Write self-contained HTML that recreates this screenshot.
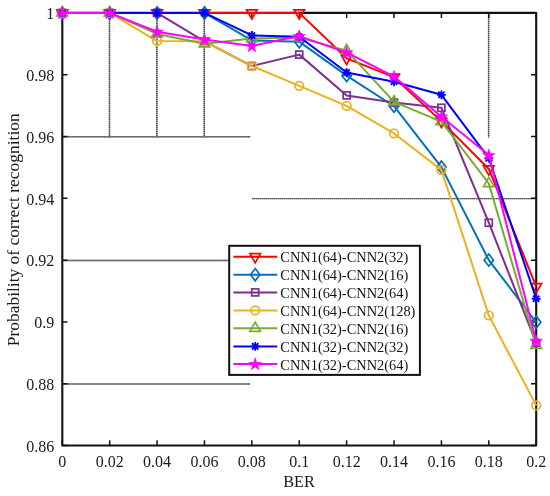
<!DOCTYPE html>
<html><head><meta charset="utf-8"><title>BER chart</title>
<style>html,body{margin:0;padding:0;background:#fff}body{width:550px;height:496px;overflow:hidden}</style></head>
<body>
<svg width="550" height="496" viewBox="0 0 550 496" style="display:block">
<rect width="550" height="496" fill="#fff"/>
<line x1="62.30" y1="136.81" x2="250.36" y2="136.81" stroke="#868686" stroke-width="1.4" fill="none"/>
<line x1="62.30" y1="136.81" x2="250.36" y2="136.81" stroke="#505050" stroke-width="1.4" stroke-dasharray="1 1" fill="none"/>
<line x1="62.30" y1="260.43" x2="250.36" y2="260.43" stroke="#868686" stroke-width="1.4" fill="none"/>
<line x1="62.30" y1="260.43" x2="250.36" y2="260.43" stroke="#505050" stroke-width="1.4" stroke-dasharray="1 1" fill="none"/>
<line x1="62.30" y1="384.04" x2="250.36" y2="384.04" stroke="#868686" stroke-width="1.4" fill="none"/>
<line x1="62.30" y1="384.04" x2="250.36" y2="384.04" stroke="#505050" stroke-width="1.4" stroke-dasharray="1 1" fill="none"/>
<line x1="251.86" y1="198.62" x2="534.70" y2="198.62" stroke="#868686" stroke-width="1.4" fill="none"/>
<line x1="251.86" y1="198.62" x2="534.70" y2="198.62" stroke="#505050" stroke-width="1.4" stroke-dasharray="1 1" fill="none"/>
<line x1="109.49" y1="12.90" x2="109.49" y2="137.51" stroke="#868686" stroke-width="1.4" fill="none"/>
<line x1="109.49" y1="12.90" x2="109.49" y2="137.51" stroke="#505050" stroke-width="1.4" stroke-dasharray="1 1" fill="none"/>
<line x1="156.88" y1="12.90" x2="156.88" y2="137.51" stroke="#868686" stroke-width="1.4" fill="none"/>
<line x1="156.88" y1="12.90" x2="156.88" y2="137.51" stroke="#505050" stroke-width="1.4" stroke-dasharray="1 1" fill="none"/>
<line x1="204.27" y1="12.90" x2="204.27" y2="137.51" stroke="#868686" stroke-width="1.4" fill="none"/>
<line x1="204.27" y1="12.90" x2="204.27" y2="137.51" stroke="#505050" stroke-width="1.4" stroke-dasharray="1 1" fill="none"/>
<line x1="488.61" y1="12.90" x2="488.61" y2="137.51" stroke="#868686" stroke-width="1.4" fill="none"/>
<line x1="488.61" y1="12.90" x2="488.61" y2="137.51" stroke="#505050" stroke-width="1.4" stroke-dasharray="1 1" fill="none"/>
<rect x="62.30" y="12.90" width="473.90" height="432.65" stroke="#111" stroke-width="2.1" stroke-linejoin="round" fill="none"/>
<path d="M62.30 445.55v-5.20M62.30 12.90v5.20M109.69 445.55v-5.20M109.69 12.90v5.20M157.08 445.55v-5.20M157.08 12.90v5.20M204.47 445.55v-5.20M204.47 12.90v5.20M251.86 445.55v-5.20M251.86 12.90v5.20M299.25 445.55v-5.20M299.25 12.90v5.20M346.64 445.55v-5.20M346.64 12.90v5.20M394.03 445.55v-5.20M394.03 12.90v5.20M441.42 445.55v-5.20M441.42 12.90v5.20M488.81 445.55v-5.20M488.81 12.90v5.20M536.20 445.55v-5.20M536.20 12.90v5.20M62.30 445.55h5.20M536.20 445.55h-5.20M62.30 383.74h5.20M536.20 383.74h-5.20M62.30 321.94h5.20M536.20 321.94h-5.20M62.30 260.13h5.20M536.20 260.13h-5.20M62.30 198.32h5.20M536.20 198.32h-5.20M62.30 136.51h5.20M536.20 136.51h-5.20M62.30 74.71h5.20M536.20 74.71h-5.20M62.30 12.90h5.20M536.20 12.90h-5.20" stroke="#111" stroke-width="1.5" fill="none"/>
<g font-family="'Liberation Serif', 'Times New Roman', serif" font-size="16" fill="#1a1a1a">
<text x="62.30" y="467" text-anchor="middle">0</text>
<text x="109.69" y="467" text-anchor="middle">0.02</text>
<text x="157.08" y="467" text-anchor="middle">0.04</text>
<text x="204.47" y="467" text-anchor="middle">0.06</text>
<text x="251.86" y="467" text-anchor="middle">0.08</text>
<text x="299.25" y="467" text-anchor="middle">0.1</text>
<text x="346.64" y="467" text-anchor="middle">0.12</text>
<text x="394.03" y="467" text-anchor="middle">0.14</text>
<text x="441.42" y="467" text-anchor="middle">0.16</text>
<text x="488.81" y="467" text-anchor="middle">0.18</text>
<text x="536.20" y="467" text-anchor="middle">0.2</text>
<text x="54.2" y="451.75" text-anchor="end">0.86</text>
<text x="54.2" y="389.94" text-anchor="end">0.88</text>
<text x="54.2" y="328.14" text-anchor="end">0.9</text>
<text x="54.2" y="266.33" text-anchor="end">0.92</text>
<text x="54.2" y="204.52" text-anchor="end">0.94</text>
<text x="54.2" y="142.71" text-anchor="end">0.96</text>
<text x="54.2" y="80.91" text-anchor="end">0.98</text>
<text x="54.2" y="19.10" text-anchor="end">1</text>
<text x="299" y="486.6" text-anchor="middle" font-size="16.3">BER</text>
<text transform="translate(19.3 229.8) rotate(-90)" text-anchor="middle" font-size="17.45">Probability of correct recognition</text>
</g>
<polyline points="62.30,12.90 109.69,12.90 157.08,12.90 204.47,12.90 251.86,12.90 299.25,12.90 346.64,58.33 394.03,77.18 441.42,121.37 488.81,168.96 536.20,286.71" fill="none" stroke="#FF0000" stroke-width="2" stroke-linejoin="round"/>
<polygon points="57.00,9.84 67.60,9.84 62.30,19.02" fill="none" stroke="#FF0000" stroke-width="1.7" stroke-linejoin="miter"/>
<polygon points="104.39,9.84 114.99,9.84 109.69,19.02" fill="none" stroke="#FF0000" stroke-width="1.7" stroke-linejoin="miter"/>
<polygon points="151.78,9.84 162.38,9.84 157.08,19.02" fill="none" stroke="#FF0000" stroke-width="1.7" stroke-linejoin="miter"/>
<polygon points="199.17,9.84 209.77,9.84 204.47,19.02" fill="none" stroke="#FF0000" stroke-width="1.7" stroke-linejoin="miter"/>
<polygon points="246.56,9.84 257.16,9.84 251.86,19.02" fill="none" stroke="#FF0000" stroke-width="1.7" stroke-linejoin="miter"/>
<polygon points="293.95,9.84 304.55,9.84 299.25,19.02" fill="none" stroke="#FF0000" stroke-width="1.7" stroke-linejoin="miter"/>
<polygon points="341.34,55.27 351.94,55.27 346.64,64.45" fill="none" stroke="#FF0000" stroke-width="1.7" stroke-linejoin="miter"/>
<polygon points="388.73,74.12 399.33,74.12 394.03,83.30" fill="none" stroke="#FF0000" stroke-width="1.7" stroke-linejoin="miter"/>
<polygon points="436.12,118.31 446.72,118.31 441.42,127.49" fill="none" stroke="#FF0000" stroke-width="1.7" stroke-linejoin="miter"/>
<polygon points="483.51,165.90 494.11,165.90 488.81,175.08" fill="none" stroke="#FF0000" stroke-width="1.7" stroke-linejoin="miter"/>
<polygon points="530.90,283.65 541.50,283.65 536.20,292.83" fill="none" stroke="#FF0000" stroke-width="1.7" stroke-linejoin="miter"/>
<polyline points="62.30,12.90 109.69,12.90 157.08,12.90 204.47,12.90 251.86,40.40 299.25,41.64 346.64,75.63 394.03,106.23 441.42,167.11 488.81,260.13 536.20,322.24" fill="none" stroke="#0072BD" stroke-width="2" stroke-linejoin="round"/>
<polygon points="62.30,6.80 67.00,12.90 62.30,19.00 57.60,12.90" fill="none" stroke="#0072BD" stroke-width="1.7" stroke-linejoin="miter"/>
<polygon points="109.69,6.80 114.39,12.90 109.69,19.00 104.99,12.90" fill="none" stroke="#0072BD" stroke-width="1.7" stroke-linejoin="miter"/>
<polygon points="157.08,6.80 161.78,12.90 157.08,19.00 152.38,12.90" fill="none" stroke="#0072BD" stroke-width="1.7" stroke-linejoin="miter"/>
<polygon points="204.47,6.80 209.17,12.90 204.47,19.00 199.77,12.90" fill="none" stroke="#0072BD" stroke-width="1.7" stroke-linejoin="miter"/>
<polygon points="251.86,34.30 256.56,40.40 251.86,46.50 247.16,40.40" fill="none" stroke="#0072BD" stroke-width="1.7" stroke-linejoin="miter"/>
<polygon points="299.25,35.54 303.95,41.64 299.25,47.74 294.55,41.64" fill="none" stroke="#0072BD" stroke-width="1.7" stroke-linejoin="miter"/>
<polygon points="346.64,69.53 351.34,75.63 346.64,81.73 341.94,75.63" fill="none" stroke="#0072BD" stroke-width="1.7" stroke-linejoin="miter"/>
<polygon points="394.03,100.13 398.73,106.23 394.03,112.33 389.33,106.23" fill="none" stroke="#0072BD" stroke-width="1.7" stroke-linejoin="miter"/>
<polygon points="441.42,161.01 446.12,167.11 441.42,173.21 436.72,167.11" fill="none" stroke="#0072BD" stroke-width="1.7" stroke-linejoin="miter"/>
<polygon points="488.81,254.03 493.51,260.13 488.81,266.23 484.11,260.13" fill="none" stroke="#0072BD" stroke-width="1.7" stroke-linejoin="miter"/>
<polygon points="536.20,316.14 540.90,322.24 536.20,328.34 531.50,322.24" fill="none" stroke="#0072BD" stroke-width="1.7" stroke-linejoin="miter"/>
<polyline points="62.30,12.90 109.69,12.90 157.08,12.90 204.47,41.33 251.86,66.05 299.25,54.62 346.64,95.41 394.03,102.52 441.42,107.77 488.81,222.74 536.20,342.95" fill="none" stroke="#7E2F8E" stroke-width="2" stroke-linejoin="round"/>
<rect x="58.80" y="9.40" width="7.00" height="7.00" fill="none" stroke="#7E2F8E" stroke-width="1.7"/>
<rect x="106.19" y="9.40" width="7.00" height="7.00" fill="none" stroke="#7E2F8E" stroke-width="1.7"/>
<rect x="153.58" y="9.40" width="7.00" height="7.00" fill="none" stroke="#7E2F8E" stroke-width="1.7"/>
<rect x="200.97" y="37.83" width="7.00" height="7.00" fill="none" stroke="#7E2F8E" stroke-width="1.7"/>
<rect x="248.36" y="62.55" width="7.00" height="7.00" fill="none" stroke="#7E2F8E" stroke-width="1.7"/>
<rect x="295.75" y="51.12" width="7.00" height="7.00" fill="none" stroke="#7E2F8E" stroke-width="1.7"/>
<rect x="343.14" y="91.91" width="7.00" height="7.00" fill="none" stroke="#7E2F8E" stroke-width="1.7"/>
<rect x="390.53" y="99.02" width="7.00" height="7.00" fill="none" stroke="#7E2F8E" stroke-width="1.7"/>
<rect x="437.92" y="104.27" width="7.00" height="7.00" fill="none" stroke="#7E2F8E" stroke-width="1.7"/>
<rect x="485.31" y="219.24" width="7.00" height="7.00" fill="none" stroke="#7E2F8E" stroke-width="1.7"/>
<rect x="532.70" y="339.45" width="7.00" height="7.00" fill="none" stroke="#7E2F8E" stroke-width="1.7"/>
<polyline points="62.30,12.90 109.69,12.90 157.08,41.02 204.47,41.33 251.86,66.05 299.25,85.83 346.64,105.92 394.03,133.42 441.42,169.89 488.81,315.45 536.20,405.38" fill="none" stroke="#EDB120" stroke-width="2" stroke-linejoin="round"/>
<circle cx="62.30" cy="12.90" r="4.3" fill="none" stroke="#EDB120" stroke-width="1.7"/>
<circle cx="109.69" cy="12.90" r="4.3" fill="none" stroke="#EDB120" stroke-width="1.7"/>
<circle cx="157.08" cy="41.02" r="4.3" fill="none" stroke="#EDB120" stroke-width="1.7"/>
<circle cx="204.47" cy="41.33" r="4.3" fill="none" stroke="#EDB120" stroke-width="1.7"/>
<circle cx="251.86" cy="66.05" r="4.3" fill="none" stroke="#EDB120" stroke-width="1.7"/>
<circle cx="299.25" cy="85.83" r="4.3" fill="none" stroke="#EDB120" stroke-width="1.7"/>
<circle cx="346.64" cy="105.92" r="4.3" fill="none" stroke="#EDB120" stroke-width="1.7"/>
<circle cx="394.03" cy="133.42" r="4.3" fill="none" stroke="#EDB120" stroke-width="1.7"/>
<circle cx="441.42" cy="169.89" r="4.3" fill="none" stroke="#EDB120" stroke-width="1.7"/>
<circle cx="488.81" cy="315.45" r="4.3" fill="none" stroke="#EDB120" stroke-width="1.7"/>
<circle cx="536.20" cy="405.38" r="4.3" fill="none" stroke="#EDB120" stroke-width="1.7"/>
<polyline points="62.30,12.90 109.69,12.90 157.08,33.91 204.47,43.80 251.86,38.55 299.25,37.62 346.64,50.60 394.03,101.90 441.42,121.68 488.81,183.49 536.20,345.42" fill="none" stroke="#77AC30" stroke-width="2" stroke-linejoin="round"/>
<polygon points="57.00,15.96 67.60,15.96 62.30,6.78" fill="none" stroke="#77AC30" stroke-width="1.7" stroke-linejoin="miter"/>
<polygon points="104.39,15.96 114.99,15.96 109.69,6.78" fill="none" stroke="#77AC30" stroke-width="1.7" stroke-linejoin="miter"/>
<polygon points="151.78,36.97 162.38,36.97 157.08,27.79" fill="none" stroke="#77AC30" stroke-width="1.7" stroke-linejoin="miter"/>
<polygon points="199.17,46.86 209.77,46.86 204.47,37.68" fill="none" stroke="#77AC30" stroke-width="1.7" stroke-linejoin="miter"/>
<polygon points="246.56,41.61 257.16,41.61 251.86,32.43" fill="none" stroke="#77AC30" stroke-width="1.7" stroke-linejoin="miter"/>
<polygon points="293.95,40.68 304.55,40.68 299.25,31.50" fill="none" stroke="#77AC30" stroke-width="1.7" stroke-linejoin="miter"/>
<polygon points="341.34,53.66 351.94,53.66 346.64,44.48" fill="none" stroke="#77AC30" stroke-width="1.7" stroke-linejoin="miter"/>
<polygon points="388.73,104.96 399.33,104.96 394.03,95.78" fill="none" stroke="#77AC30" stroke-width="1.7" stroke-linejoin="miter"/>
<polygon points="436.12,124.74 446.72,124.74 441.42,115.56" fill="none" stroke="#77AC30" stroke-width="1.7" stroke-linejoin="miter"/>
<polygon points="483.51,186.55 494.11,186.55 488.81,177.37" fill="none" stroke="#77AC30" stroke-width="1.7" stroke-linejoin="miter"/>
<polygon points="530.90,348.48 541.50,348.48 536.20,339.30" fill="none" stroke="#77AC30" stroke-width="1.7" stroke-linejoin="miter"/>
<polyline points="62.30,12.90 109.69,12.90 157.08,12.90 204.47,12.90 251.86,35.46 299.25,36.70 346.64,72.54 394.03,81.81 441.42,94.79 488.81,158.15 536.20,298.76" fill="none" stroke="#0000FF" stroke-width="2" stroke-linejoin="round"/>
<path d="M62.30 8.50V17.30M57.90 12.90H66.70M59.13 9.73L65.47 16.07M59.13 16.07L65.47 9.73" fill="none" stroke="#0000FF" stroke-width="1.8"/>
<path d="M109.69 8.50V17.30M105.29 12.90H114.09M106.52 9.73L112.86 16.07M106.52 16.07L112.86 9.73" fill="none" stroke="#0000FF" stroke-width="1.8"/>
<path d="M157.08 8.50V17.30M152.68 12.90H161.48M153.91 9.73L160.25 16.07M153.91 16.07L160.25 9.73" fill="none" stroke="#0000FF" stroke-width="1.8"/>
<path d="M204.47 8.50V17.30M200.07 12.90H208.87M201.30 9.73L207.64 16.07M201.30 16.07L207.64 9.73" fill="none" stroke="#0000FF" stroke-width="1.8"/>
<path d="M251.86 31.06V39.86M247.46 35.46H256.26M248.69 32.29L255.03 38.63M248.69 38.63L255.03 32.29" fill="none" stroke="#0000FF" stroke-width="1.8"/>
<path d="M299.25 32.30V41.10M294.85 36.70H303.65M296.08 33.53L302.42 39.86M296.08 39.86L302.42 33.53" fill="none" stroke="#0000FF" stroke-width="1.8"/>
<path d="M346.64 68.14V76.94M342.24 72.54H351.04M343.47 69.38L349.81 75.71M343.47 75.71L349.81 69.38" fill="none" stroke="#0000FF" stroke-width="1.8"/>
<path d="M394.03 77.41V86.21M389.63 81.81H398.43M390.86 78.65L397.20 84.98M390.86 84.98L397.20 78.65" fill="none" stroke="#0000FF" stroke-width="1.8"/>
<path d="M441.42 90.39V99.19M437.02 94.79H445.82M438.25 91.63L444.59 97.96M438.25 97.96L444.59 91.63" fill="none" stroke="#0000FF" stroke-width="1.8"/>
<path d="M488.81 153.75V162.55M484.41 158.15H493.21M485.64 154.98L491.98 161.31M485.64 161.31L491.98 154.98" fill="none" stroke="#0000FF" stroke-width="1.8"/>
<path d="M536.20 294.36V303.16M531.80 298.76H540.60M533.03 295.59L539.37 301.93M533.03 301.93L539.37 295.59" fill="none" stroke="#0000FF" stroke-width="1.8"/>
<polyline points="62.30,12.90 109.69,12.90 157.08,31.75 204.47,39.48 251.86,45.97 299.25,36.08 346.64,52.46 394.03,76.56 441.42,116.74 488.81,155.06 536.20,341.10" fill="none" stroke="#FF00FF" stroke-width="2" stroke-linejoin="round"/>
<polygon points="62.30,6.70 63.78,11.26 68.58,11.26 64.70,14.08 66.18,18.64 62.30,15.82 58.42,18.64 59.90,14.08 56.02,11.26 60.82,11.26" fill="#FF00FF" stroke="#FF00FF" stroke-width="0.6"/>
<polygon points="109.69,6.70 111.17,11.26 115.97,11.26 112.09,14.08 113.57,18.64 109.69,15.82 105.81,18.64 107.29,14.08 103.41,11.26 108.21,11.26" fill="#FF00FF" stroke="#FF00FF" stroke-width="0.6"/>
<polygon points="157.08,25.55 158.56,30.11 163.36,30.11 159.48,32.93 160.96,37.49 157.08,34.67 153.20,37.49 154.68,32.93 150.80,30.11 155.60,30.11" fill="#FF00FF" stroke="#FF00FF" stroke-width="0.6"/>
<polygon points="204.47,33.28 205.95,37.84 210.75,37.84 206.87,40.66 208.35,45.22 204.47,42.40 200.59,45.22 202.07,40.66 198.19,37.84 202.99,37.84" fill="#FF00FF" stroke="#FF00FF" stroke-width="0.6"/>
<polygon points="251.86,39.77 253.34,44.33 258.14,44.33 254.26,47.15 255.74,51.71 251.86,48.89 247.98,51.71 249.46,47.15 245.58,44.33 250.38,44.33" fill="#FF00FF" stroke="#FF00FF" stroke-width="0.6"/>
<polygon points="299.25,29.88 300.73,34.44 305.53,34.44 301.65,37.26 303.13,41.82 299.25,39.00 295.37,41.82 296.85,37.26 292.97,34.44 297.77,34.44" fill="#FF00FF" stroke="#FF00FF" stroke-width="0.6"/>
<polygon points="346.64,46.26 348.12,50.82 352.92,50.82 349.04,53.64 350.52,58.20 346.64,55.38 342.76,58.20 344.24,53.64 340.36,50.82 345.16,50.82" fill="#FF00FF" stroke="#FF00FF" stroke-width="0.6"/>
<polygon points="394.03,70.36 395.51,74.92 400.31,74.92 396.43,77.74 397.91,82.30 394.03,79.48 390.15,82.30 391.63,77.74 387.75,74.92 392.55,74.92" fill="#FF00FF" stroke="#FF00FF" stroke-width="0.6"/>
<polygon points="441.42,110.54 442.90,115.10 447.70,115.10 443.82,117.92 445.30,122.48 441.42,119.66 437.54,122.48 439.02,117.92 435.14,115.10 439.94,115.10" fill="#FF00FF" stroke="#FF00FF" stroke-width="0.6"/>
<polygon points="488.81,148.86 490.29,153.42 495.09,153.42 491.21,156.24 492.69,160.80 488.81,157.98 484.93,160.80 486.41,156.24 482.53,153.42 487.33,153.42" fill="#FF00FF" stroke="#FF00FF" stroke-width="0.6"/>
<polygon points="536.20,334.90 537.68,339.46 542.48,339.46 538.60,342.28 540.08,346.84 536.20,344.02 532.32,346.84 533.80,342.28 529.92,339.46 534.72,339.46" fill="#FF00FF" stroke="#FF00FF" stroke-width="0.6"/>
<rect x="229.20" y="245.80" width="190.70" height="129.10" fill="#fff" stroke="#111" stroke-width="2"/>
<g font-family="'Liberation Serif', 'Times New Roman', serif" font-size="14.4" fill="#111">
<line x1="233.4" y1="256.70" x2="277.2" y2="256.70" stroke="#FF0000" stroke-width="2"/>
<polygon points="249.90,253.64 260.50,253.64 255.20,262.82" fill="none" stroke="#FF0000" stroke-width="1.7" stroke-linejoin="miter"/>
<text x="280.3" y="262.30">CNN1(64)-CNN2(32)</text>
<line x1="233.4" y1="274.70" x2="277.2" y2="274.70" stroke="#0072BD" stroke-width="2"/>
<polygon points="255.20,268.60 259.90,274.70 255.20,280.80 250.50,274.70" fill="none" stroke="#0072BD" stroke-width="1.7" stroke-linejoin="miter"/>
<text x="280.3" y="280.30">CNN1(64)-CNN2(16)</text>
<line x1="233.4" y1="292.40" x2="277.2" y2="292.40" stroke="#7E2F8E" stroke-width="2"/>
<rect x="251.70" y="288.90" width="7.00" height="7.00" fill="none" stroke="#7E2F8E" stroke-width="1.7"/>
<text x="280.3" y="298.00">CNN1(64)-CNN2(64)</text>
<line x1="233.4" y1="310.40" x2="277.2" y2="310.40" stroke="#EDB120" stroke-width="2"/>
<circle cx="255.20" cy="310.40" r="4.3" fill="none" stroke="#EDB120" stroke-width="1.7"/>
<text x="280.3" y="316.00">CNN1(64)-CNN2(128)</text>
<line x1="233.4" y1="328.30" x2="277.2" y2="328.30" stroke="#77AC30" stroke-width="2"/>
<polygon points="249.90,331.36 260.50,331.36 255.20,322.18" fill="none" stroke="#77AC30" stroke-width="1.7" stroke-linejoin="miter"/>
<text x="280.3" y="333.90">CNN1(32)-CNN2(16)</text>
<line x1="233.4" y1="346.40" x2="277.2" y2="346.40" stroke="#0000FF" stroke-width="2"/>
<path d="M255.20 342.00V350.80M250.80 346.40H259.60M252.03 343.23L258.37 349.57M252.03 349.57L258.37 343.23" fill="none" stroke="#0000FF" stroke-width="1.8"/>
<text x="280.3" y="352.00">CNN1(32)-CNN2(32)</text>
<line x1="233.4" y1="364.00" x2="277.2" y2="364.00" stroke="#FF00FF" stroke-width="2"/>
<polygon points="255.20,357.80 256.68,362.36 261.48,362.36 257.60,365.18 259.08,369.74 255.20,366.92 251.32,369.74 252.80,365.18 248.92,362.36 253.72,362.36" fill="#FF00FF" stroke="#FF00FF" stroke-width="0.6"/>
<text x="280.3" y="369.60">CNN1(32)-CNN2(64)</text>
</g>
</svg>
</body></html>
